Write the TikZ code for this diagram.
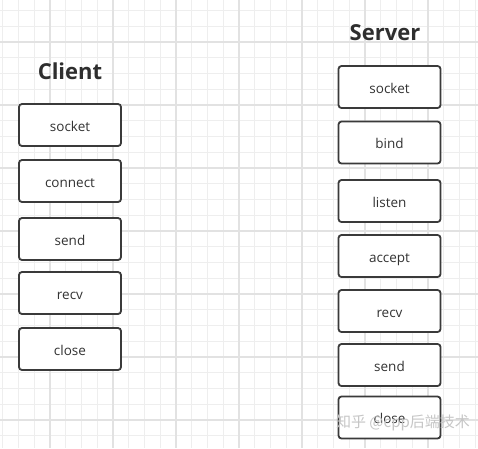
\documentclass[tikz,border=0pt]{standalone}
\usepackage{fontspec}
\setmainfont{Open Sans}
\newfontfamily\cjkfont{Noto Sans CJK SC}
\usepackage{xcolor}
\usetikzlibrary{positioning}

\definecolor{boxline}{HTML}{3A3A3A}
\definecolor{boxtext}{HTML}{333333}
\definecolor{gridminor}{HTML}{EEEEEE}
\definecolor{gridmajor}{HTML}{E2E2E2}

\tikzset{
  callbox/.style={draw=boxline, line width=1.8pt, rounded corners=3pt, fill=white,
    minimum width=102pt, minimum height=42pt, inner sep=0pt,
    text height=13pt, text depth=1pt,
    text=boxtext, font=\fontsize{13.5}{15}\selectfont},
  sidetitle/.style={text=boxtext!90!black, font=\fontsize{22}{26}\selectfont\bfseries},
  wmark/.style={text=gray!45, font=\cjkfont\fontsize{15}{17}\selectfont}
}

\begin{document}
\begin{tikzpicture}[x=1pt,y=-1pt]

  \useasboundingbox[fill=white] (0,0) rectangle (478,448);

  % grid
  \foreach \k in {0,...,30}
    \draw[gridminor, line width=0.9pt] (2.75+15.75*\k,0) -- (2.75+15.75*\k,448);
  \foreach \k in {0,...,28}
    \draw[gridminor, line width=0.9pt] (0,10.5+15.75*\k) -- (478,10.5+15.75*\k);
  \foreach \k in {3,7,...,27}
    \draw[gridmajor, line width=1.1pt] (2.75+15.75*\k,0) -- (2.75+15.75*\k,448);
  \foreach \k in {2,6,...,26}
    \draw[gridmajor, line width=1.1pt] (0,10.5+15.75*\k) -- (478,10.5+15.75*\k);

  % client side
  \node[sidetitle] (Cl) at (70,71) {Client};
  \node[callbox] (ClSo) at (70,125) {socket};
  \node[callbox] (ClCo) at (70,181) {connect};
  \node[callbox] (ClSe) at (70,239) {send};
  \node[callbox] (ClRe) at (70,293) {recv};
  \node[callbox] (ClCl) at (70,349) {close};

  % server side
  \node[sidetitle] (Se) at (385,33) {Server};
  \node[callbox] (SeSo) at (389.5,87) {socket};
  \node[callbox] (SeBi) at (389.5,142.5) {bind};
  \node[callbox] (SeLi) at (389.5,201) {listen};
  \node[callbox] (SeAc) at (389.5,256) {accept};
  \node[callbox] (SeRe) at (389.5,311) {recv};
  \node[callbox] (SeSe) at (389.5,365) {send};
  \node[callbox] (SeCl) at (389.5,417.5) {close};

  % watermark
  \node[wmark] (Wm) at (403,423) {知乎 @cpp后端技术};

\end{tikzpicture}
\end{document}
